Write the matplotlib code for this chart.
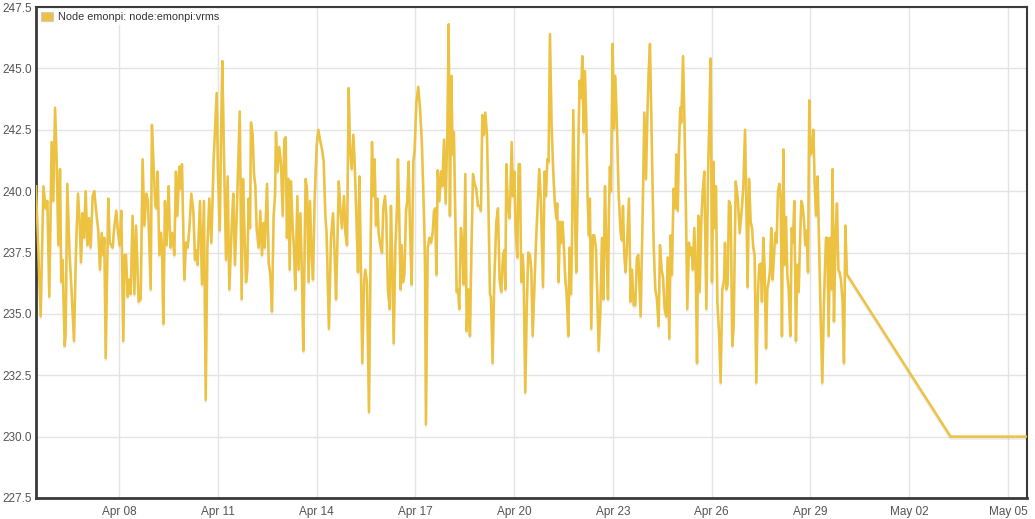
import numpy as np
import matplotlib
matplotlib.use("Agg")
import matplotlib.pyplot as plt
import matplotlib.dates as mdates
import matplotlib.patheffects as pe
from matplotlib.patches import Patch

# hours since 2017-04-05 00:00
hours = [
    11.5, 14.9, 16.9, 18.6, 19.8, 21.2, 22.9, 24.1, 25.4, 26.6, 27.8, 29.0, 29.9, 30.9, 32.4, 33.1,
    34.3, 36.0, 37.3, 39.2, 40.7, 42.1, 43.3, 44.3, 45.5, 46.5, 47.7, 48.9, 50.1, 51.3, 52.8, 54.0,
    55.7, 56.9, 58.1, 59.4, 60.6, 61.3, 62.3, 64.2, 65.2, 66.4, 67.4, 68.3, 70.0, 71.3, 72.5, 73.7,
    75.1, 76.1, 77.1, 78.3, 79.5, 80.5, 81.9, 83.2, 84.4, 86.3, 87.8, 89.2, 90.5, 91.9, 93.1, 95.1,
    96.0, 97.3, 98.5, 99.5, 100.2, 101.4, 102.6, 103.3, 104.3, 105.5, 106.7, 108.2, 108.9, 109.7,
    110.6, 111.6, 112.3, 113.5, 114.5, 116.0, 116.9, 117.9, 119.6, 120.8, 122.0, 123.3, 124.7,
    126.2, 127.4, 128.4, 129.3, 131.0, 132.5, 133.9, 135.2, 136.4, 137.8, 139.3, 141.0, 143.2,
    144.1, 145.4, 146.6, 147.3, 148.5, 150.0, 151.2, 152.4, 154.1, 155.3, 156.5, 157.7, 160.0,
    161.4, 162.4, 163.3, 164.6, 165.5, 166.5, 167.5, 168.2, 169.4, 170.4, 171.4, 172.3, 173.8,
    175.0, 176.2, 177.2, 178.2, 179.9, 181.1, 182.3, 183.5, 184.7, 185.7, 186.4, 187.6, 188.8,
    190.1, 191.3, 192.5, 193.5, 194.4, 195.4, 196.4, 197.3, 198.6, 199.5, 200.5, 202.0, 202.9,
    204.2, 205.4, 206.3, 208.0, 209.0, 210.2, 211.2, 212.4, 213.4, 214.6, 216.1, 217.3, 218.5,
    220.0, 221.2, 222.4, 223.3, 225.0, 226.5, 228.0, 229.2, 230.2, 232.2, 233.3, 234.5, 236.0,
    237.0, 238.2, 239.4, 240.4, 241.6, 242.8, 243.8, 245.0, 246.2, 247.2, 248.1, 249.3, 250.6,
    251.5, 252.7, 254.2, 255.4, 256.4, 257.4, 258.3, 259.3, 260.3, 261.2, 262.5, 263.7, 264.6,
    265.9, 266.8, 268.0, 269.3, 270.2, 271.2, 272.2, 273.4, 274.6, 275.3, 276.3, 277.3, 278.0,
    279.0, 280.0, 281.2, 282.1, 283.1, 284.1, 285.3, 286.5, 287.5, 288.7, 290.1, 291.4, 292.8,
    294.3, 295.0, 295.7, 297.0, 298.2, 299.4, 300.6, 301.6, 302.5, 303.3, 304.3, 305.5, 306.7,
    307.6, 308.9, 310.1, 311.3, 312.3, 313.2, 314.2, 315.2, 316.1, 317.1, 318.1, 319.1, 320.0,
    321.2, 322.2, 323.2, 324.4, 325.4, 326.6, 327.8, 328.8, 330.0, 331.2, 332.4, 333.6, 334.9,
    335.8, 336.8, 338.0, 339.0, 340.2, 341.4, 342.4, 343.1, 344.3, 345.5, 347.0, 348.2, 349.4,
    350.6, 351.9, 352.8, 353.6, 354.3, 355.3, 356.5, 357.2, 358.2, 359.1, 360.1, 361.1, 362.3,
    363.3, 364.2, 365.2, 366.2, 366.9, 368.1, 369.3, 370.3, 371.5, 372.5, 373.5, 374.7, 375.9,
    377.1, 378.3, 379.5, 381.0, 382.2, 383.2, 384.2, 385.1, 386.1, 387.3, 388.5, 389.7, 390.7,
    391.4, 392.4, 393.4, 394.4, 395.3, 396.3, 397.3, 398.2, 399.5, 400.4, 401.4, 402.1, 403.1,
    404.3, 405.3, 406.5, 407.7, 408.7, 409.7, 410.6, 411.6, 412.6, 413.5, 414.5, 415.2, 416.2,
    417.4, 418.4, 419.6, 420.6, 421.6, 422.8, 424.0, 425.0, 426.2, 427.2, 428.4, 429.1, 429.8,
    430.6, 431.8, 432.7, 433.7, 434.9, 436.1, 437.6, 438.6, 439.3, 440.3, 441.2, 442.2, 443.7,
    444.9, 445.9, 447.1, 448.3, 449.5, 450.5, 451.2, 452.2, 453.7, 454.9, 456.1, 457.1, 458.0,
    459.0, 460.2, 461.7, 462.9, 464.1, 465.3, 466.3, 467.5, 468.5, 469.7, 470.9, 471.9, 473.1,
    474.1, 475.0, 476.2, 477.5, 478.2, 479.2, 480.1, 481.1, 481.8, 483.1, 484.3, 485.2, 486.2,
    487.4, 488.4, 489.4, 490.3, 491.3, 492.3, 493.3, 494.2, 495.2, 496.4, 497.4, 498.6, 500.1,
    501.3, 502.2, 503.2, 504.2, 505.2, 506.1, 507.1, 508.1, 509.3, 510.5, 511.7, 513.0, 513.7,
    514.6, 515.6, 516.6, 517.8, 519.0, 520.0, 521.5, 523.0, 524.4, 525.8, 527.0, 528.3, 529.2,
    530.2, 531.2, 532.4, 533.4, 534.3, 535.3, 536.5, 537.7, 538.7, 539.7, 540.6, 541.6, 542.6,
    543.6, 544.5, 545.5, 546.5, 547.4, 548.4, 549.4, 550.4, 551.3, 552.3, 553.3, 554.3, 555.2,
    556.2, 557.2, 558.1, 559.1, 560.1, 561.3, 562.3, 563.2, 564.2, 565.4, 566.4, 567.4, 568.3,
    569.3, 570.3, 571.3, 572.2, 573.2, 574.2, 575.1, 576.1, 577.1, 578.1, 579.0, 580.0, 581.2,
    582.4, 583.4, 584.6, 585.8, 587.3, 588.3, 589.2, 590.2, 591.2, 592.1, 593.1, 594.3, 595.3,
    596.3, 597.2, 598.2, 599.4, 600.4, 601.4, 602.6, 678.1, 733.8,
]

vrms = [
    240.2, 234.9, 240.2, 239.3, 239.6, 235.7, 242.0, 239.6, 243.4, 241.2, 237.8, 240.9, 236.3, 237.2, 233.7, 234.2,
    240.3, 237.4, 236.1, 233.9, 237.7, 239.9, 238.8, 237.1, 239.1, 238.1, 240.0, 237.8, 238.9, 237.7, 239.8, 240.0,
    239.0, 238.4, 236.8, 238.3, 237.4, 238.1, 233.2, 239.7, 237.9, 237.8, 237.7, 238.4, 239.2, 238.3, 237.8, 239.2,
    233.9, 237.4, 237.4, 235.7, 236.4, 235.8, 239.0, 235.8, 238.6, 235.5, 235.6, 241.3, 238.6, 239.9, 239.6, 236.0,
    242.7, 240.9, 239.4, 239.3, 240.8, 237.4, 238.3, 237.8, 234.6, 239.6, 237.8, 240.2, 238.6, 237.7,
    238.3, 237.9, 237.4, 240.8, 239.0, 241.0, 240.1, 241.1, 236.4, 237.9, 237.7, 238.5, 239.9,
    239.2, 237.2, 237.6, 237.0, 239.6, 236.2, 239.6, 231.5, 237.7, 239.7, 237.9, 241.3, 244.0,
    240.8, 238.4, 243.1, 245.3, 241.5, 237.2, 240.6, 236.0, 238.5, 239.9, 237.0, 238.9, 243.25,
    235.6, 240.5, 238.6, 236.3, 236.8, 239.7, 238.5, 242.8, 242.3, 240.7, 240.2, 238.5, 237.7,
    239.2, 237.4, 238.7, 237.7, 240.3, 237.1, 236.6, 235.1, 239.0, 239.8, 242.4, 240.8, 241.8,
    241.1, 239.0, 242.1, 242.2, 238.1, 240.5, 236.8, 240.4, 238.5, 237.7, 236.0, 239.8, 236.8,
    239.1, 236.4, 233.5, 240.5, 240.1, 236.3, 239.6, 237.4, 236.4, 239.7, 241.9, 242.5, 242.1,
    241.7, 241.2, 239.0, 238.3, 234.4, 238.1, 239.1, 237.4, 235.6, 240.4, 239.3, 238.5, 239.8,
    238.3, 237.8, 244.2, 241.7, 240.9, 242.3, 241.1, 239.0, 236.7, 240.6, 237.7, 233.0, 236.3,
    236.8, 236.3, 231.0, 237.7, 242.0, 239.8, 241.3, 238.6, 239.7, 238.3, 237.8, 237.5, 239.3,
    239.8, 239.0, 236.0, 235.2, 239.4, 237.0, 233.8, 237.7, 239.3, 241.3, 238.8, 236.0, 237.8,
    236.3, 236.6, 239.2, 239.6, 241.2, 238.5, 236.2, 241.2, 241.7, 243.6, 244.25, 243.4, 241.9,
    239.0, 237.2, 230.5, 237.7, 238.1, 237.9, 238.3, 239.2, 239.3, 236.6, 240.85, 239.6, 240.8,
    240.2, 242.1, 239.5, 242.4, 246.8, 239.0, 244.7, 241.5, 242.4, 239.0, 235.9, 236.0, 235.2,
    238.5, 237.9, 236.2, 240.7, 234.3, 236.0, 234.1, 237.4, 240.7, 240.3, 240.1, 239.4, 239.4,
    239.2, 243.1, 242.3, 243.2, 242.3, 239.0, 235.8, 235.7, 233.0, 236.3, 238.75, 239.3, 236.4,
    235.9, 237.4, 237.6, 236.0, 241.1, 239.6, 238.9, 239.8, 242.0, 239.8, 240.8, 238.5, 237.3,
    241.1, 241.1, 236.3, 237.4, 236.7, 231.8, 235.5, 237.5, 237.4, 236.8, 234.1, 236.0, 237.9,
    239.4, 240.9, 239.6, 236.1, 240.8, 239.8, 241.3, 241.2, 246.4, 242.7, 240.8, 239.5, 238.9,
    239.5, 236.3, 238.75, 237.9, 238.75, 237.7, 236.4, 235.9, 234.1, 237.7, 235.8, 237.7, 243.3,
    239.0, 236.7, 240.8, 244.5, 243.8, 245.5, 242.4, 244.9, 242.8, 239.8, 238.2, 239.7, 234.4,
    238.2, 238.2, 237.7, 235.8, 233.5, 235.1, 238.1, 235.6, 240.2, 237.8, 235.6, 239.3, 241.0,
    240.0, 246.0, 242.55, 244.7, 242.7, 240.0, 238.3, 238.0, 239.4, 237.4, 236.7, 237.7, 239.7,
    235.5, 236.8, 235.35, 235.35, 237.3, 237.4, 236.4, 234.9, 239.2, 243.2, 240.5, 243.1, 244.8,
    246.0, 242.3, 237.8, 236.0, 235.6, 234.5, 237.8, 236.8, 236.5, 235.2, 234.9, 237.3, 234.0,
    238.2, 236.6, 240.1, 239.3, 241.5, 239.2, 241.7, 243.4, 242.8, 245.5, 242.4, 239.3, 235.2,
    237.9, 237.4, 237.7, 236.8, 238.5, 237.0, 233.0, 239.0, 235.9, 238.75, 239.95, 240.8, 235.2,
    240.65, 242.7, 245.4, 236.3, 241.2, 238.5, 240.2, 235.5, 234.3, 232.2, 236.0, 236.4, 237.9,
    236.0, 236.2, 239.6, 239.4, 233.7, 234.5, 240.4, 239.7, 238.3, 239.2, 240.1, 242.5, 239.6,
    236.1, 240.5, 238.75, 238.5, 237.7, 237.4, 232.2, 235.9, 237.0, 237.05, 235.5, 238.1, 236.8,
    233.6, 236.0, 236.3, 236.8, 238.5, 236.4, 237.4, 238.3, 237.9, 240.0, 240.3, 239.7, 234.1,
    241.7, 237.0, 238.95, 236.6, 236.0, 234.1, 238.5, 237.9, 239.6, 233.9, 237.0, 235.9, 237.8,
    239.6, 239.4, 238.75, 237.8, 238.4, 236.7, 243.7, 241.5, 241.6, 242.5, 240.4, 239.0, 240.6,
    237.4, 234.9, 232.2, 235.5, 238.1, 238.1, 234.1, 238.1, 236.0, 240.9, 234.7, 238.3, 239.5,
    236.8, 236.7, 236.4, 235.5, 233.0, 238.6, 236.6, 230.0, 230.0,
]

series_label = "Node emonpi: node:emonpi:vrms"
y_ticks = [227.5, 230.0, 232.5, 235.0, 237.5, 240.0, 242.5, 245.0, 247.5]
x_tick_dates = ["2017-04-08", "2017-04-11", "2017-04-14", "2017-04-17", "2017-04-20",
                "2017-04-23", "2017-04-26", "2017-04-29", "2017-05-02", "2017-05-05"]

base = np.datetime64("2017-04-05T00:00")
times = base + (np.array(hours) * 3600).astype("timedelta64[s]")
times = times.astype("datetime64[s]").astype(object)

plt.rcParams['font.family'] = ['Liberation Sans', 'DejaVu Sans']

fig = plt.figure(figsize=(10.35, 5.19), dpi=100)
ax = fig.add_axes([36/1035, 21/519, 991/1035, 491/519])

color = "#edc240"
ax.plot(times, vrms, color=color, lw=1.8, solid_joinstyle="round",
        path_effects=[pe.SimpleLineShadow(offset=(0, -1.5), shadow_color="k", alpha=0.07),
                      pe.Normal()], zorder=3)

ax.set_yticks(y_ticks)
ax.set_yticklabels([f"{v:.1f}" for v in y_ticks])
ax.set_ylim(227.5, 247.5)
xt = [np.datetime64(d + "T00:00").astype("datetime64[s]").astype(object) for d in x_tick_dates]
ax.set_xticks(xt)
ax.xaxis.set_major_formatter(mdates.DateFormatter("%b %d"))
ax.set_xlim(times[0], times[-1])

ax.grid(True, color="#e4e4e4", lw=1.0, zorder=0)
ax.set_axisbelow(True)
ax.tick_params(axis="both", length=0, labelsize=8.5, colors="#545454", pad=3)
ax.tick_params(axis="x", pad=6)
for s in ["left", "bottom"]:
    ax.spines[s].set_linewidth(2.0)
    ax.spines[s].set_color("#3a3a3a")
for s in ["top", "right"]:
    ax.spines[s].set_linewidth(1.5)
    ax.spines[s].set_color("#3a3a3a")

handle = Patch(facecolor=color, edgecolor="#cccccc", linewidth=0.8)
leg = ax.legend([handle], [series_label], loc="upper left", bbox_to_anchor=(0.0, 1.0),
                frameon=True, fontsize=7.8, handlelength=1.1, handleheight=0.85,
                handletextpad=0.45, borderpad=0.3, borderaxespad=0.15, fancybox=False)
leg.get_frame().set_facecolor("white")
leg.get_frame().set_alpha(0.85)
leg.get_frame().set_edgecolor("none")
for t in leg.get_texts():
    t.set_color("#333333")

fig.savefig("out.png", dpi=100)
